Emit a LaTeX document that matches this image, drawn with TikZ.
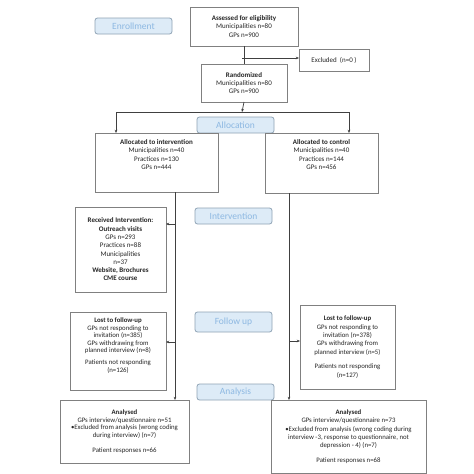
\documentclass[tikz,border=0pt]{standalone}
\usepackage{fontspec}
\setmainfont{Carlito}
\usetikzlibrary{arrows.meta}
\definecolor{boxline}{HTML}{808080}
\definecolor{conn}{HTML}{404040}
\definecolor{txt}{HTML}{262626}
\definecolor{labfill}{HTML}{DDEBF7}
\definecolor{labline}{HTML}{8FA3B5}
\definecolor{labtxt}{HTML}{8DB8E2}
\tikzset{
  box/.style={draw=boxline, line width=0.8pt, fill=white, anchor=north west, inner sep=0pt, outer sep=0pt,
    align=center, text=txt, font=\fontsize{7}{8.2}\selectfont},
  boxtext/.style={anchor=north, inner sep=0pt, align=center, text=txt, font=\fontsize{7}{8.6}\selectfont},
  phase/.style={draw=labline, line width=0.8pt, fill=labfill, rounded corners=2.5pt, anchor=north west,
    inner sep=0pt, outer sep=0pt, text=labtxt, font=\fontsize{9.5}{10}\selectfont,
    minimum width=77pt, minimum height=16pt},
  conline/.style={draw=conn, line width=0.7pt},
  arr/.style={conline, -{Stealth[length=3.2pt,width=2.6pt]}}
}
\begin{document}
\begin{tikzpicture}[x=1pt,y=-1pt]
\useasboundingbox (0,0) rectangle (474,474);
\fill[white] (0,0) rectangle (474,474);

% phase labels
\node[phase] (enroll) at (95,18) {Enrollment};
\node[phase] (alloclab) at (197,117) {Allocation};
\node[phase] (intlab) at (195,208) {Intervention};
\node[phase, minimum height=20pt] (fulab) at (195,312) {Follow up};
\node[phase] (anlab) at (197,384) {Analysis};

% boxes
\node[box, minimum width=108pt, minimum height=39pt] (assess) at (190,7)
  {\textbf{Assessed for eligibility}\\Municipalities n=80\\GPs n=900};
\node[box, minimum width=70pt, minimum height=22pt] (excl) at (299,49)
  {Excluded~~(n=0~)};
\node[box, minimum width=86pt, minimum height=38pt] (rand) at (201,64)
  {\textbf{Randomized}\\Municipalities n=80\\GPs n=900};

\node[box, minimum width=123pt, minimum height=59pt] (allocI) at (95,133) {};
\node[boxtext] (allocItxt) at ([yshift=-6pt]allocI.north)
  {\textbf{Allocated to intervention}\\Municipalities n=40\\Practices n=130\\GPs n=444};
\node[box, minimum width=113pt, minimum height=60pt] (allocC) at (265,133) {};
\node[boxtext] (allocCtxt) at ([yshift=-6pt]allocC.north)
  {\textbf{Allocated to control}\\Municipalities n=40\\Practices n=144\\GPs n=456};

\node[box, minimum width=91pt, minimum height=85pt, font=\fontsize{7}{8.3}\selectfont] (recv) at (75,207)
  {\textbf{Received Intervention:}\\\textbf{Outreach visits}\\GPs n=293\\Practices n=88\\Municipalities\\n=37\\\textbf{Website, Brochures}\\\textbf{CME course}};

\node[box, minimum width=96pt, minimum height=78pt, font=\fontsize{6.8}{7.4}\selectfont] (lostI) at (70,312)
  {\textbf{Lost to follow-up}\\GPs not responding to\\invitation (n=385)\\GPs withdrawing from\\planned interview (n=8)\\[5pt]Patients not responding\\(n=126)\\[4pt]};
\node[box, minimum width=95pt, minimum height=84pt, font=\fontsize{6.8}{8.4}\selectfont] (lostC) at (300,305)
  {\textbf{Lost to follow-up}\\GPs not responding to\\invitation (n=378)\\GPs withdrawing from\\planned interview (n=5)\\[6pt]Patients not responding\\(n=127)};

\node[box, minimum width=129pt, minimum height=63pt, font=\fontsize{6.8}{7.6}\selectfont] (anI) at (60,400)
  {\textbf{Analysed}\\GPs interview/questionnaire n=51\\•Excluded from analysis (wrong coding\\during interview) (n=7)\\[7pt]Patient responses n=66};
\node[box, minimum width=155pt, minimum height=73pt, font=\fontsize{6.8}{8.4}\selectfont] (anC) at (271,400)
  {\textbf{Analysed}\\GPs interview/questionnaire n=73\\•Excluded from analysis (wrong coding during\\interview -3, response to questionnaire, not\\depression - 4) (n=7)\\[6pt]Patient responses n=68};

% junction coordinates
\coordinate (j1) at (242,58);
\coordinate (j2) at (242,112);
\coordinate (jl) at (116,112);
\coordinate (jr) at (349,112);
\coordinate (li) at (175,192);
\coordinate (lc) at (289,193);
\coordinate (ri) at (175,224);
\coordinate (fi) at (175,342);
\coordinate (fc) at (289,341);

% connectors
\draw[conline] (assess.south) -- (rand.north);
\draw[arr] (j1) -- (j1 -| excl.west);
\draw[arr] (rand.south) -- (j2);
\draw[conline] (jl) -- (jr);
\draw[arr] (jl) -- (jl |- allocI.north);
\draw[arr] (jr) -- (jr |- allocC.north);
\draw[arr] (li) -- (li |- anI.north);
\draw[arr] (lc) -- (lc |- anC.north);
\draw[arr] (ri) -- (ri -| recv.east);
\draw[arr] (fi) -- (fi -| lostI.east);
\draw[arr] (fc) -- (fc -| lostC.west);
\end{tikzpicture}
\end{document}
